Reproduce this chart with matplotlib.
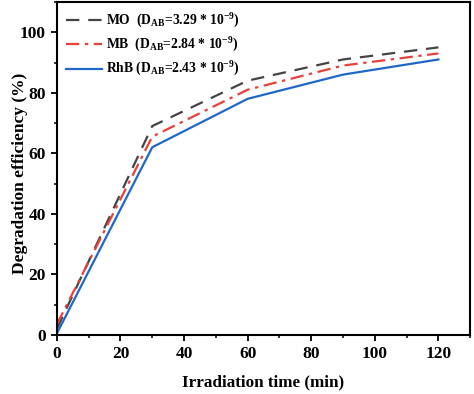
import matplotlib

matplotlib.use("Agg")
import matplotlib.pyplot as plt  # noqa: E402
from matplotlib.ticker import MultipleLocator  # noqa: E402

plt.rcParams["font.family"] = "Liberation Serif"
plt.rcParams["font.weight"] = "bold"
plt.rcParams["mathtext.fontset"] = "custom"
plt.rcParams["mathtext.rm"] = "Liberation Serif:bold"
plt.rcParams["mathtext.bf"] = "Liberation Serif:bold"
plt.rcParams["mathtext.it"] = "Liberation Serif:italic:bold"

time_min = [0, 30, 60, 90, 120]
mo = [2.0, 69.0, 84.0, 91.0, 95.0]
mb = [3.5, 65.5, 81.0, 89.0, 93.0]
rhb = [0.5, 62.0, 78.0, 86.0, 91.0]

labels = [r"MO  (D$_{\mathrm{AB}}$=3.29 * 10$^{\mathrm{-9}}$)",
          r"MB  (D$_{\mathrm{AB}}$=2.84 * 10$^{\mathrm{-9}}$)",
          r"RhB (D$_{\mathrm{AB}}$=2.43 * 10$^{\mathrm{-9}}$)"]

fig = plt.figure(figsize=(4.74, 3.94), dpi=100)
ax = fig.add_axes([0.120, 0.150, 0.872, 0.845])

ax.plot(time_min, mo, color="#444444", lw=1.6, ls=(0, (6, 4)), label=labels[0])
ax.plot(time_min, mb, color="#e8403a", lw=1.6, ls=(0, (6, 2.5, 1.5, 2.5)), label=labels[1])
ax.plot(time_min, rhb, color="#2068c8", lw=1.6, label=labels[2])

ax.set_xlim(0, 130)
ax.set_ylim(0, 110)
ax.xaxis.set_major_locator(MultipleLocator(20))
ax.xaxis.set_minor_locator(MultipleLocator(10))
ax.yaxis.set_major_locator(MultipleLocator(20))
ax.yaxis.set_minor_locator(MultipleLocator(10))
ax.tick_params(which="major", length=4, width=1.3, labelsize=12.5, pad=4)
ax.tick_params(which="minor", length=2.5, width=1.1)
for s in ax.spines.values():
    s.set_linewidth(1.5)

ax.set_xlabel("Irradiation time (min)", fontsize=12.3, fontweight="bold", labelpad=9)
ax.set_ylabel("Degradation efficiency (%)", fontsize=12.5, fontweight="bold")
ax.yaxis.set_label_coords(-0.071, 0.485)

ax.legend(loc="upper left", frameon=False, fontsize=9.8, handlelength=2.6,
          handletextpad=0.3, borderaxespad=0.3, labelspacing=0.45)

fig.savefig("out.png", dpi=100)
